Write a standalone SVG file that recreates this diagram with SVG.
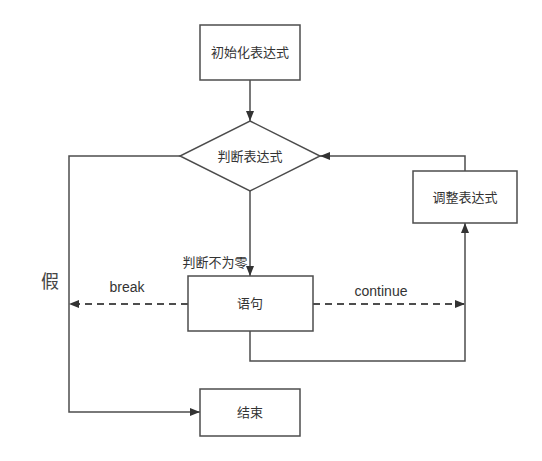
<svg xmlns="http://www.w3.org/2000/svg" width="542" height="461" viewBox="0 0 542 461">
<style>
.box{fill:#fff;stroke:#4d4d4d;stroke-width:1.5}
.ln{fill:none;stroke:#4d4d4d;stroke-width:1.5}
.dash{stroke-dasharray:7 5;stroke-width:2}
text{font-family:"Liberation Sans","Noto Sans CJK SC",sans-serif;fill:#333}
.cjk{font-size:13px;text-anchor:middle}
.en{font-size:14px;text-anchor:middle}
</style>
<defs>
<marker id="ar" viewBox="0 0 10 10" refX="10" refY="5" markerWidth="10" markerHeight="10" markerUnits="userSpaceOnUse" orient="auto">
<path d="M0,1 L10,5 L0,9 Z" fill="#333"/>
</marker>
</defs>
<rect width="542" height="461" fill="#fff"/>
<g id="connectors">
<path class="ln" d="M250,80 V121" marker-end="url(#ar)"/>
<path class="ln" d="M250,191 V276" marker-end="url(#ar)"/>
<path class="ln" d="M180,156 H69 V412 H200" marker-end="url(#ar)"/>
<path class="ln" d="M465,171 V156 H320" marker-end="url(#ar)"/>
<path class="ln" d="M250,331 V361 H465 V223" marker-end="url(#ar)"/>
<path class="ln dash" d="M188,304 H69" marker-end="url(#ar)"/>
<path class="ln dash" d="M313,304 H465" marker-end="url(#ar)"/>
<text class="cjk" x="215" y="267">判断不为零</text>
<text class="en" x="127" y="292">break</text>
<text class="en" x="381" y="296">continue</text>
<text x="50" y="288" style="font-size:18px;text-anchor:middle;fill:#444">假</text>
</g>
<g id="init">
<rect class="box" x="200" y="25" width="100" height="55"/>
<text class="cjk" x="250" y="57">初始化表达式</text>
</g>
<g id="cond">
<path class="box" d="M250,121 L320,156 L250,191 L180,156 Z"/>
<text class="cjk" x="250" y="161">判断表达式</text>
</g>
<g id="adjust">
<rect class="box" x="413" y="171" width="104" height="52"/>
<text class="cjk" x="465" y="202">调整表达式</text>
</g>
<g id="stmt">
<rect class="box" x="188" y="276" width="125" height="55"/>
<text class="cjk" x="250" y="308">语句</text>
</g>
<g id="end">
<rect class="box" x="200" y="389" width="100" height="47"/>
<text class="cjk" x="250" y="417">结束</text>
</g>
</svg>
